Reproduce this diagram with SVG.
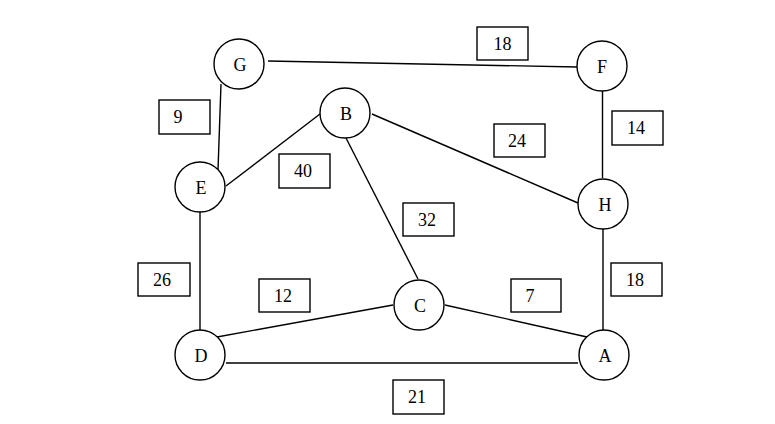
<svg xmlns="http://www.w3.org/2000/svg" width="775" height="424" viewBox="0 0 775 424">
<style>
.n circle{fill:#fff;stroke:#000;stroke-width:1.4}
.t{font-family:"Liberation Serif","Times New Roman",serif;font-size:18px;fill:#000;text-anchor:middle}
.l rect{fill:#fff;stroke:#000;stroke-width:1.4}
#edges line{stroke:#000;stroke-width:1.4}
</style>
<rect width="775" height="424" fill="#fff"/>
<g id="edges">
<line x1="268" y1="61" x2="577" y2="67"/>
<line x1="221" y1="84" x2="218" y2="170"/>
<line x1="226" y1="186" x2="320" y2="114"/>
<line x1="346" y1="138" x2="418" y2="279"/>
<line x1="372" y1="114" x2="578" y2="203"/>
<line x1="602.5" y1="91" x2="602.5" y2="178"/>
<line x1="200" y1="212" x2="200" y2="330"/>
<line x1="217" y1="337" x2="393" y2="305"/>
<line x1="445" y1="305" x2="587" y2="337"/>
<line x1="226" y1="363" x2="578" y2="363"/>
<line x1="603" y1="229" x2="603" y2="330"/>
</g>
<g id="labels" class="l">
<g id="l-GF"><rect x="477" y="27" width="51" height="33"/><text class="t" x="502.5" y="50">18</text></g>
<g id="l-GE"><rect x="159" y="100" width="51" height="34"/><text class="t" x="178" y="123">9</text></g>
<g id="l-EB"><rect x="279" y="154" width="51" height="34"/><text class="t" x="303" y="177">40</text></g>
<g id="l-BH"><rect x="494" y="124" width="51" height="33"/><text class="t" x="517" y="147">24</text></g>
<g id="l-FH"><rect x="612" y="111" width="51" height="34"/><text class="t" x="636" y="134">14</text></g>
<g id="l-BC"><rect x="403" y="203" width="51" height="33"/><text class="t" x="427" y="226">32</text></g>
<g id="l-ED"><rect x="138" y="263" width="52" height="33"/><text class="t" x="162" y="286">26</text></g>
<g id="l-DC"><rect x="259" y="279" width="51" height="33"/><text class="t" x="283" y="302">12</text></g>
<g id="l-CA"><rect x="511" y="279" width="50" height="33"/><text class="t" x="530" y="302">7</text></g>
<g id="l-HA"><rect x="611" y="263" width="51" height="33"/><text class="t" x="635" y="286">18</text></g>
<g id="l-DA"><rect x="393" y="380" width="51" height="34"/><text class="t" x="417" y="403">21</text></g>
</g>
<g id="node-G" class="n"><circle cx="239" cy="64" r="25"/><text class="t" x="240" y="71">G</text></g>
<g id="node-F" class="n"><circle cx="602" cy="66" r="25"/><text class="t" x="602" y="73">F</text></g>
<g id="node-B" class="n"><circle cx="345" cy="113" r="25"/><text class="t" x="346" y="120">B</text></g>
<g id="node-E" class="n"><circle cx="200" cy="187" r="25"/><text class="t" x="201" y="194">E</text></g>
<g id="node-H" class="n"><circle cx="603" cy="204" r="25"/><text class="t" x="605" y="211">H</text></g>
<g id="node-C" class="n"><circle cx="419" cy="305" r="25"/><text class="t" x="420" y="312">C</text></g>
<g id="node-D" class="n"><circle cx="200" cy="355" r="25"/><text class="t" x="201" y="362">D</text></g>
<g id="node-A" class="n"><circle cx="604" cy="355" r="25"/><text class="t" x="605" y="362">A</text></g>
</svg>
